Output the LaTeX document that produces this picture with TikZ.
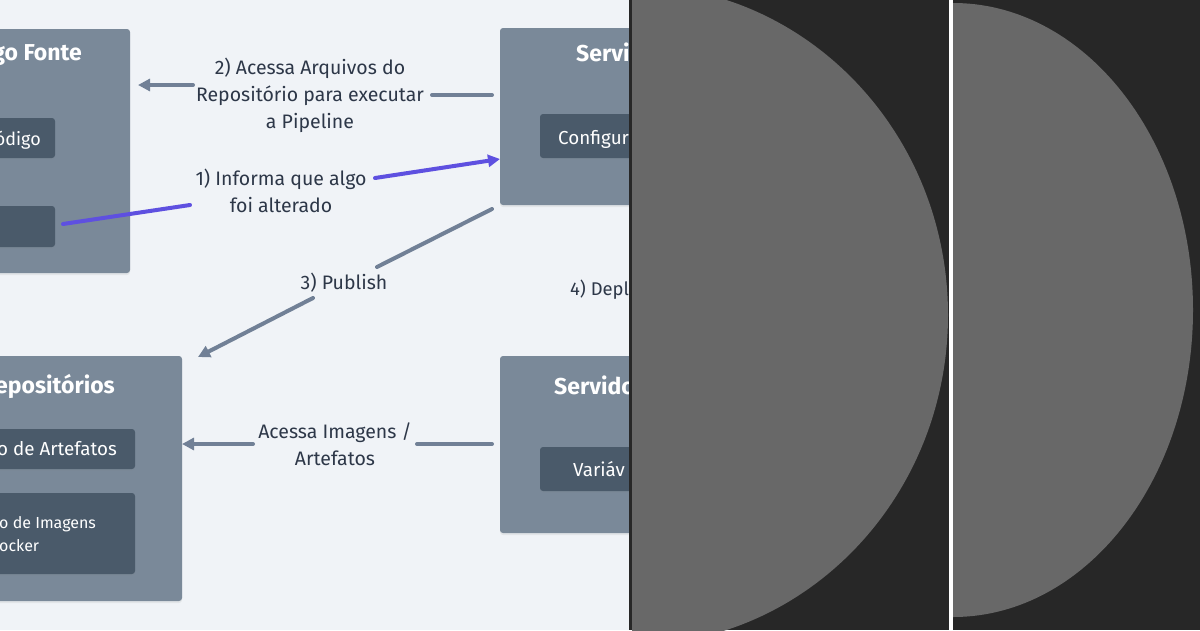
\documentclass[tikz,border=0pt]{standalone}
\usepackage{fontspec}
\setmainfont{Fira Sans}
\usetikzlibrary{arrows.meta,shadows}
\definecolor{bgc}{HTML}{F0F3F7}
\definecolor{boxc}{HTML}{7A8999}
\definecolor{innerc}{HTML}{4A5A6A}
\definecolor{txtc}{HTML}{2D3748}
\definecolor{connc}{HTML}{718096}
\definecolor{accentc}{HTML}{5E50E0}
\definecolor{panelc}{HTML}{272727}
\definecolor{discc}{HTML}{686868}
\begin{document}
\begin{tikzpicture}[x=1pt,y=-1pt,
  outerbox/.style={fill=boxc,rounded corners=3pt,inner sep=0pt,
    drop shadow={opacity=0.12,shadow xshift=0pt,shadow yshift=-2pt}},
  innerbox/.style={fill=innerc,rounded corners=3pt,inner sep=0pt,
    drop shadow={opacity=0.10,shadow xshift=0pt,shadow yshift=-1.5pt}},
  titletxt/.style={text=white,inner sep=0pt,font=\fontsize{23}{28}\selectfont\bfseries},
  innertxt/.style={text=white,inner sep=0pt,font=\fontsize{18.8}{23}\selectfont},
  smalltxt/.style={text=white,inner sep=0pt,font=\fontsize{16}{23}\selectfont},
  labeltxt/.style={text=txtc,inner sep=0pt,align=center,font=\fontsize{19.5}{27}\selectfont},
  connline/.style={draw=connc,line width=4pt,line cap=round},
  accentline/.style={draw=accentc,line width=4pt,line cap=round},
  tipconn/.style={-{Triangle[length=12pt,width=12pt]}},
]
\useasboundingbox (0,0) rectangle (1200,630);
\fill[bgc] (0,0) rectangle (629,630);

\begin{scope}
\clip (0,0) rectangle (629,630);
% boxes
\node[outerbox,minimum width=230pt,minimum height=244pt] (codigo) at (15,151) {};
\node[innerbox,minimum width=115pt,minimum height=40pt] (codin1) at (-2.5,138) {};
\node[innerbox,minimum width=115pt,minimum height=41pt] (codin2) at (-2.5,226.5) {};
\node[outerbox,minimum width=260pt,minimum height=177pt] (serv1) at (630,116.5) {};
\node[innerbox,minimum width=180pt,minimum height=44pt] (serv1in) at (630,136) {};
\node[outerbox,minimum width=282pt,minimum height=245pt] (repo) at (41,478.5) {};
\node[innerbox,minimum width=195pt,minimum height=40pt] (repoin1) at (37.5,449) {};
\node[innerbox,minimum width=195pt,minimum height=81pt] (repoin2) at (37.5,533.5) {};
\node[outerbox,minimum width=260pt,minimum height=177pt] (serv2) at (630,444.5) {};
\node[innerbox,minimum width=180pt,minimum height=44pt] (serv2in) at (630,469) {};

% box texts
\node[titletxt,anchor=base east] (t1) at (82,60) {go Fonte};
\node[innertxt,anchor=base east,font=\fontsize{18}{23}\selectfont] (t1a) at (41,145) {ódigo};
\node[titletxt,anchor=base west] (t2) at (576,61) {Servi};
\node[innertxt,anchor=base west] (t2a) at (558,144) {Configur};
\node[titletxt,anchor=base east] (t3) at (115,393) {epositórios};
\node[innertxt,anchor=base east] (t3a) at (117,455) {o de Artefatos};
\node[smalltxt,anchor=base west] (t3b) at (-1,528) {o de Imagens};
\node[smalltxt,anchor=base west] (t3c) at (-1,551) {ocker};
\node[titletxt,anchor=base west] (t4) at (554,394) {Servido};
\node[innertxt,anchor=base west] (t4a) at (573,476) {Variáv};

% labels
\node[labeltxt] (lab2) at (310,95.5) {2) Acessa Arquivos do\\Repositório para executar\\a Pipeline};
\node[labeltxt] (lab1) at (281,190.5) {1) Informa que algo\\foi alterado};
\node[labeltxt,anchor=base] (lab3) at (344,289) {3) Publish};
\node[labeltxt,anchor=base west,font=\fontsize{18.4}{27}\selectfont] (lab4) at (570,295) {4) Depl};
\node[labeltxt] (lab5) at (335,444.5) {Acessa Imagens /\\Artefatos};

% connector end points
\coordinate (c2a) at (492,95);  \coordinate (c2b) at (432,95);
\coordinate (c2c) at (193,85);  \coordinate (c2d) at (138,85);
\coordinate (c1a) at (63,224);  \coordinate (c1b) at (190,205);
\coordinate (c1c) at (375,178); \coordinate (c1d) at (500,159);
\coordinate (c3a) at (492,209); \coordinate (c3b) at (377,267);
\coordinate (c3c) at (313,298); \coordinate (c3d) at (198,357);
\coordinate (c5a) at (492,444); \coordinate (c5b) at (417,444);
\coordinate (c5c) at (253,444); \coordinate (c5d) at (182,444);

\draw[connline] (c2a) -- (c2b);
\draw[connline,tipconn] (c2c) -- (c2d);
\draw[accentline] (c1a) -- (c1b);
\draw[accentline,tipconn] (c1c) -- (c1d);
\draw[connline] (c3a) -- (c3b);
\draw[connline,tipconn] (c3c) -- (c3d);
\draw[connline] (c5a) -- (c5b);
\draw[connline,tipconn] (c5c) -- (c5d);
\end{scope}

% right panels
\fill[panelc] (629,0) rectangle (949,630);
\begin{scope}
\clip (632,0) rectangle (949,630);
\fill[discc] (632,315) ellipse [x radius=316, y radius=330];
\end{scope}
\fill[white] (949,0) rectangle (953,630);
\fill[panelc] (953,0) rectangle (1200,630);
\begin{scope}
\clip (953,0) rectangle (1200,630);
\fill[discc] (953,310) ellipse [x radius=240, y radius=307];
\end{scope}
\end{tikzpicture}
\end{document}
